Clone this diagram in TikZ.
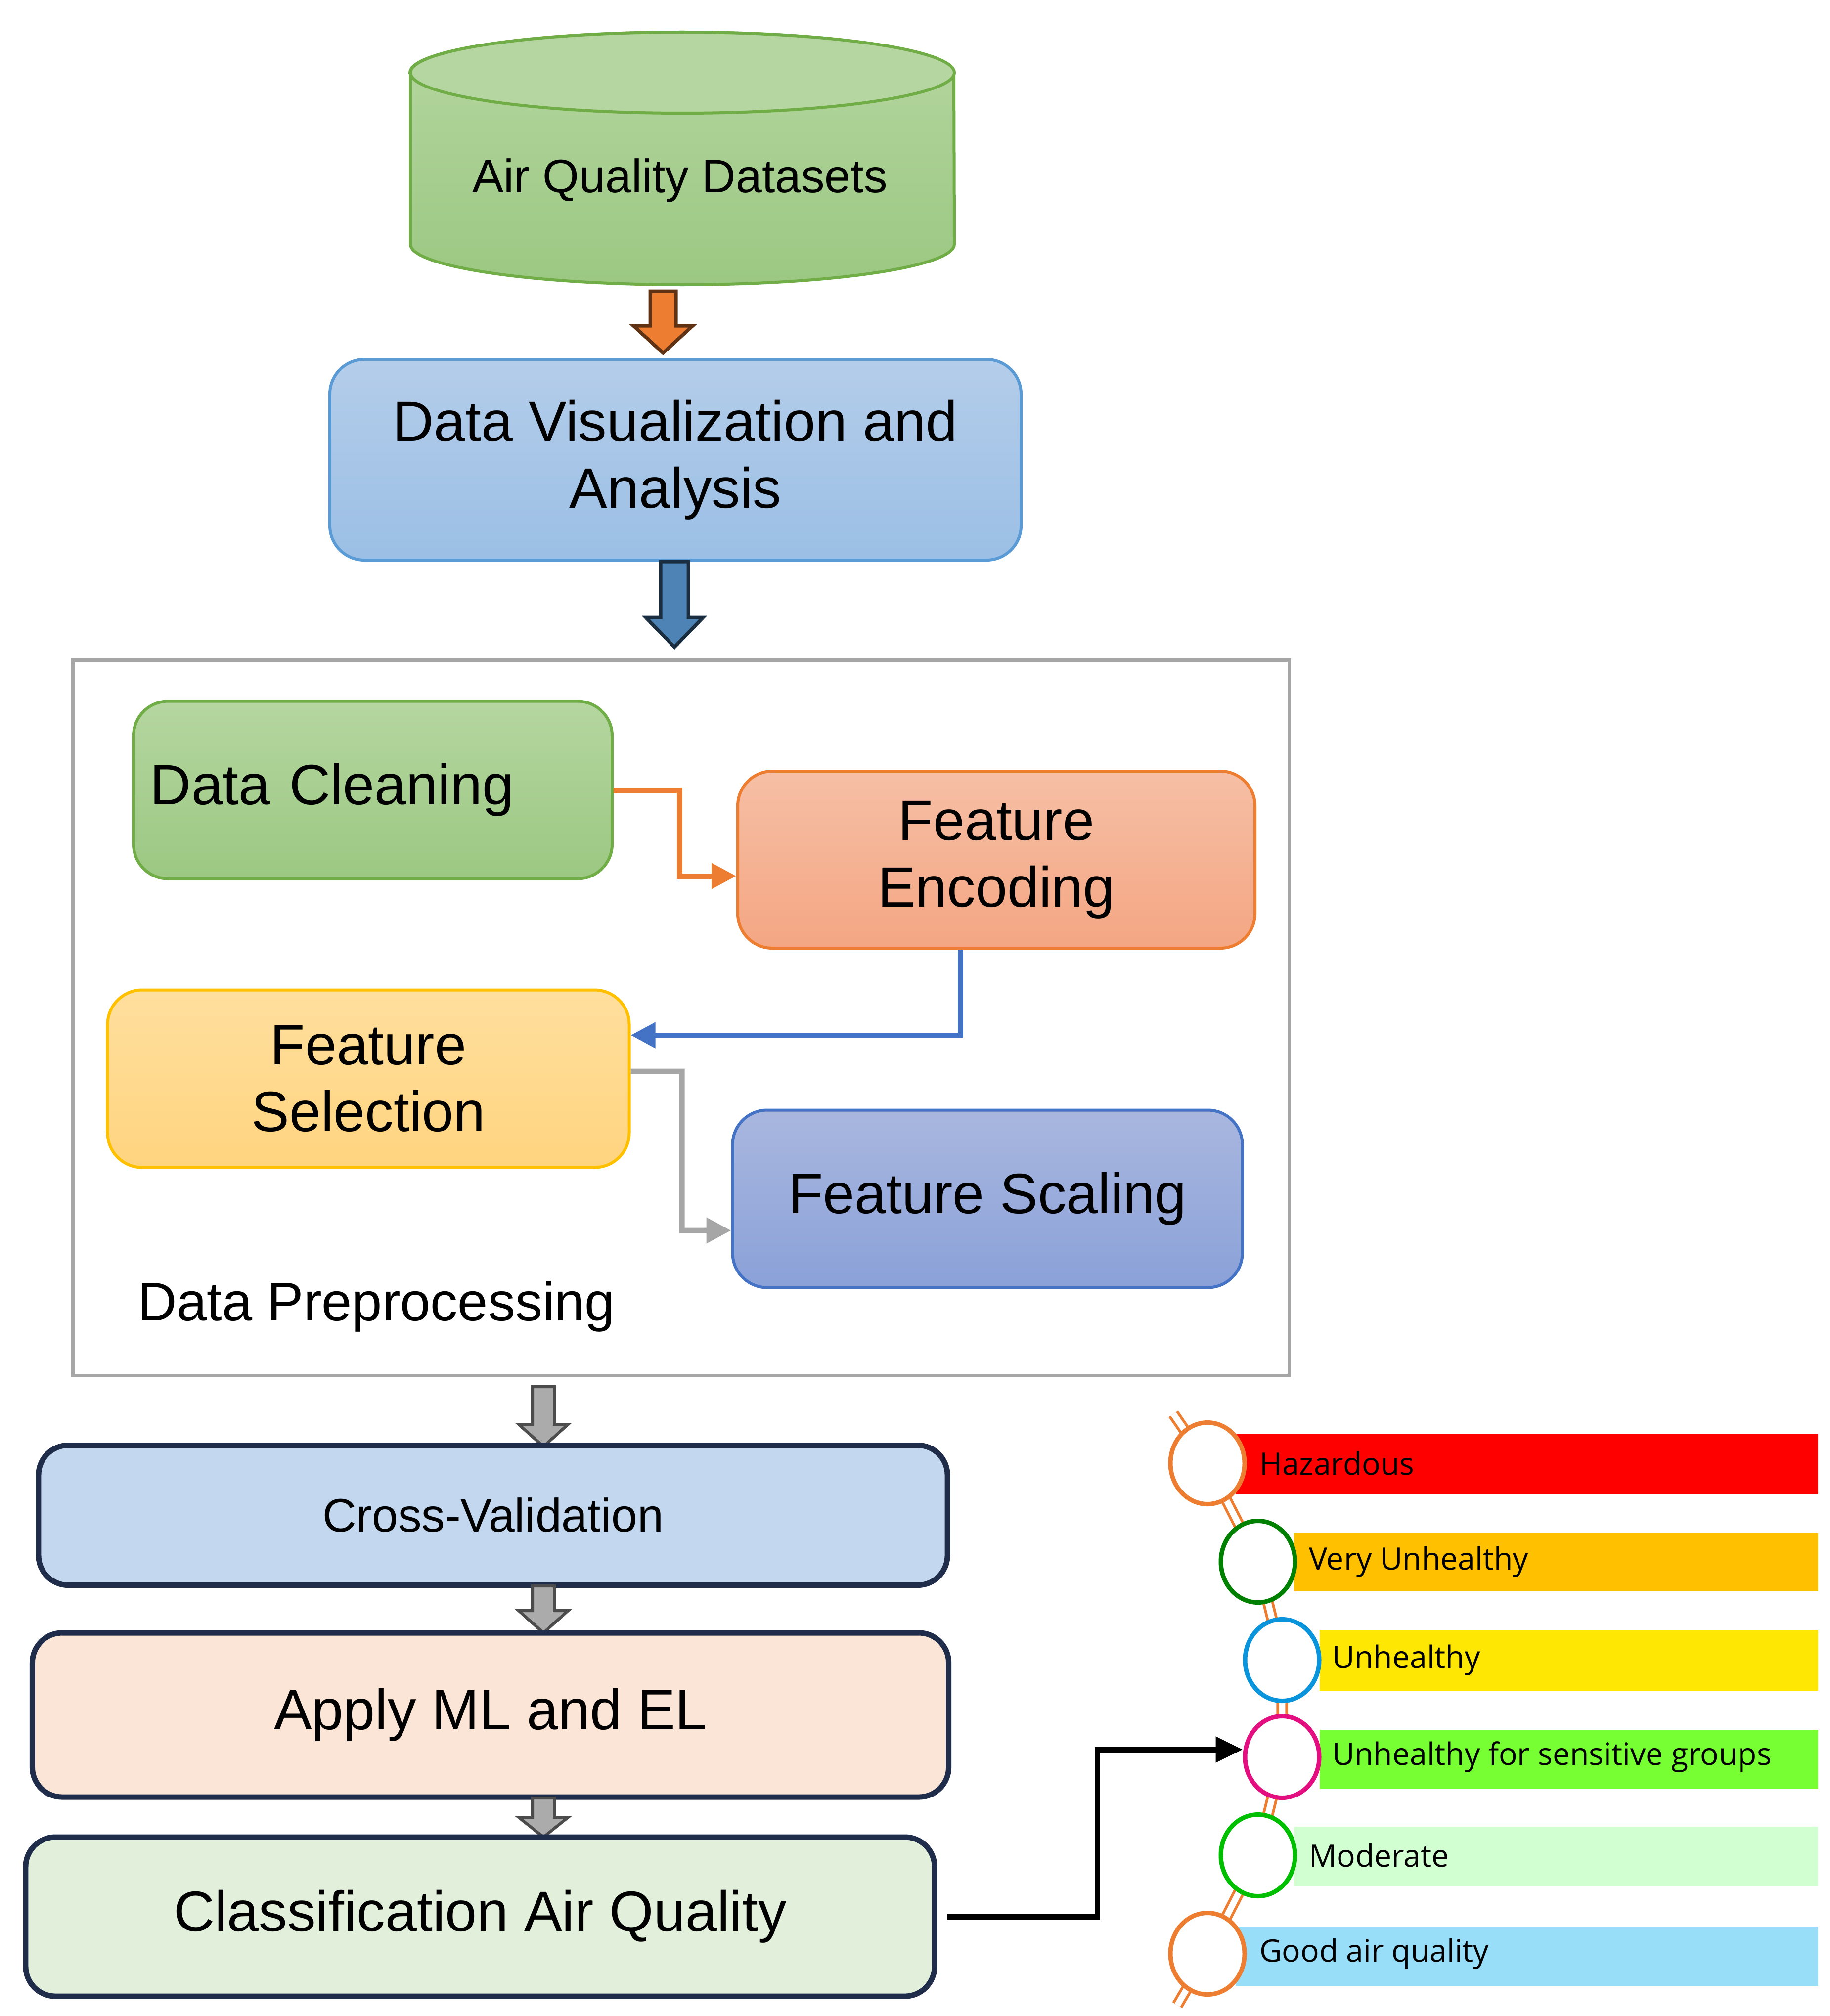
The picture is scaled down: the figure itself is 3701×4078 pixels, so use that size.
\documentclass[tikz,border=0pt]{standalone}
\usepackage{fontspec}
\setmainfont{Liberation Sans}
\newfontfamily\legfont{Open Sans}
\usetikzlibrary{shapes.geometric,arrows.meta,calc}
\definecolor{gA}{HTML}{B5D6A0}\definecolor{gB}{HTML}{9BC882}\definecolor{gE}{HTML}{70AD47}
\definecolor{bA}{HTML}{B4CDEA}\definecolor{bB}{HTML}{9BBFE5}\definecolor{bE}{HTML}{5B9BD5}
\definecolor{oA}{HTML}{F6BFA5}\definecolor{oB}{HTML}{F4A683}\definecolor{oE}{HTML}{ED7D31}
\definecolor{yA}{HTML}{FFDF9E}\definecolor{yB}{HTML}{FFD47F}\definecolor{yE}{HTML}{FFC000}
\definecolor{sA}{HTML}{A9B7DF}\definecolor{sB}{HTML}{8AA1D8}\definecolor{sE}{HTML}{4472C4}
\definecolor{dk}{HTML}{1F2D4A}
\newcommand{\myblockarrow}[7]{\filldraw[#7] ({#1-#4},#2) -- ({#1+#4},#2) -- ({#1+#4},{#3-#6}) -- ({#1+#5},{#3-#6}) -- (#1,#3) -- ({#1-#5},{#3-#6}) -- ({#1-#4},{#3-#6}) -- cycle;}
\tikzset{
  box/.style={draw, rounded corners=14pt, line width=1.2pt, align=center, font=\fontsize{23}{27}\selectfont},
  dbox/.style={draw=dk, rounded corners=12pt, line width=2.2pt, align=center},
  conn/.style={line width=2.2pt, -{Triangle[length=10pt,width=10pt]}},
  leg/.style={ellipse, draw, line width=1.8pt, fill=white, minimum width=30pt, minimum height=33pt, inner sep=0pt},
  legtxt/.style={anchor=west, font=\legfont\fontsize{12.5}{14}\selectfont, inner sep=0pt},
  garrow/.style={fill=gray!90!black!60, draw=black!70, line width=1.2pt}
}
\begin{document}
\begin{tikzpicture}[x=0.2pt,y=-0.2pt]
\useasboundingbox (0,0) rectangle (3701,4078);
\fill[white] (0,0) rectangle (3701,4078);
% cylinder
\path[draw=gE, line width=1.2pt, top color=gA, bottom color=gB]
  (830,147) -- (830,494) arc[start angle=180,end angle=360,x radius=110pt,y radius=16.4pt]
  -- (1929,147) arc[start angle=0,end angle=180,x radius=110pt,y radius=16.4pt] -- cycle;
\draw[gE, line width=1.2pt, fill=gA] (1380,147) ellipse[x radius=110pt, y radius=16.4pt];
\node[font=\fontsize{19}{23}\selectfont] (ds) at (1375,365) {Air Quality Datasets};
\myblockarrow{1341}{589}{714}{26}{60}{55}{fill=oE, draw=black!60!oE, line width=1.4pt}
\node[box, draw=bE, top color=bA, bottom color=bB, minimum width=279.6pt, minimum height=81.2pt] (dva) at (1366,930) {Data Visualization and\\Analysis};
\myblockarrow{1364}{1136}{1309}{28}{58}{60}{fill=bE!85!black, draw=black!70!bE, line width=1.4pt}
% frame
\draw[gray!70, line width=1.4pt] (147,1335) rectangle (2607,2782);
\node[box, draw=gE, top color=gA, bottom color=gB, minimum width=193.6pt, minimum height=71.8pt, text width=180pt, align=left] (dc) at (754,1598) {Data Cleaning};
\node[box, draw=oE, top color=oA, bottom color=oB, minimum width=209.2pt, minimum height=71.6pt] (fe) at (2015,1739) {Feature\\Encoding};
\node[box, draw=yE, top color=yA, bottom color=yB, minimum width=211pt, minimum height=71.8pt] (fs) at (745,2182) {Feature\\Selection};
\node[box, draw=sE, top color=sA, bottom color=sB, minimum width=206.2pt, minimum height=71.8pt] (fsc) at (1997,2425) {Feature Scaling};
\node[anchor=west, font=\fontsize{22}{26}\selectfont, inner sep=0pt] (dp) at (277,2643) {Data Preprocessing};
\draw[conn, oE] (dc.east) -- (1374,1598) |- ([yshift=-6.6pt]fe.west);
\draw[conn, sE] ([xshift=-14.6pt]fe.south) |- ([yshift=17.6pt]fs.east);
\draw[conn, gray!70] ([yshift=3pt]fs.east) -- (1379,2167) |- ([yshift=-12.8pt]fsc.west);
% lower
\myblockarrow{1099}{2805}{2926}{22}{50}{45}{garrow}
\node[dbox, fill=bA!80!white, minimum width=367.6pt, minimum height=56.6pt, font=\fontsize{19}{23}\selectfont] (cv) at (997,3065) {Cross-Validation};
\myblockarrow{1099}{3208}{3303}{22}{50}{45}{garrow}
\node[dbox, fill={rgb,255:red,250;green,229;blue,214}, minimum width=370.6pt, minimum height=66.4pt, font=\fontsize{23}{27}\selectfont] (ap) at (992,3469) {Apply ML and EL};
\myblockarrow{1099}{3637}{3716}{22}{50}{40}{garrow}
\node[dbox, fill={rgb,255:red,226;green,239;blue,218}, minimum width=367.6pt, minimum height=64.4pt, font=\fontsize{23}{27}\selectfont] (cl) at (971,3877) {Classification Air Quality};
% legend
\fill[red] (2499,2900) rectangle (3677,3023);
\fill[yE] (2617,3101) rectangle (3677,3219);
\fill[yellow!95!red] (2669,3297) rectangle (3677,3420);
\fill[green!55!lime!80!white] (2669,3499) rectangle (3677,3619);
\fill[green!18!white] (2617,3695) rectangle (3677,3816);
\fill[cyan!40!white] (2499,3897) rectangle (3677,4017);
\draw[oE, double=white, double distance=2.5pt, line width=1.1pt] (2373,2860) -- (2442,2960) -- (2544,3159) -- (2593,3358) -- (2593,3554) -- (2544,3753) -- (2442,3952) -- (2381,4056);
\node[leg, draw=oE] (c1) at (2442,2960) {};
\node[leg, draw=green!50!black] (c2) at (2544,3159) {};
\node[leg, draw=cyan!80!blue] (c3) at (2593,3358) {};
\node[leg, draw=magenta!80!purple] (c4) at (2593,3554) {};
\node[leg, draw=green!75!black] (c5) at (2544,3753) {};
\node[leg, draw=oE] (c6) at (2442,3952) {};
\node[legtxt] (t1) at (2546,2960) {Hazardous};
\node[legtxt] (t2) at (2646,3159) {Very Unhealthy};
\node[legtxt] (t3) at (2693,3358) {Unhealthy};
\node[legtxt] (t4) at (2693,3554) {Unhealthy for sensitive groups};
\node[legtxt] (t5) at (2646,3753) {Moderate};
\node[legtxt] (t6) at (2546,3952) {Good air quality};
\draw[line width=2.2pt, -{Triangle[length=11pt,width=10pt]}] ([xshift=4pt]cl.east) -- (2219,3877) |- ([yshift=3pt]c4.west);
\end{tikzpicture}
\end{document}
